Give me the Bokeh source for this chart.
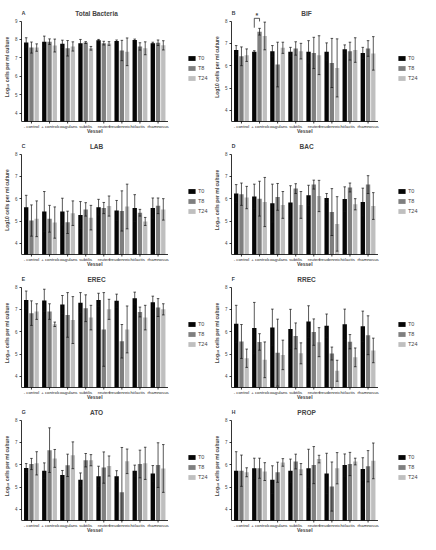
from bokeh.plotting import figure
from bokeh.layouts import gridplot
from bokeh.models import ColumnDataSource, Range1d, FixedTicker, Legend, LegendItem, Label
from bokeh.core.properties import value
from bokeh.transform import dodge
from bokeh.embed import file_html
from bokeh.resources import INLINE

vessels = ["- control", "+ control", "coagulans", "subtilis", "reuteri",
           "freudenreichii", "lactis", "rhamnosus"]
times = ["T0", "T8", "T24"]

# A - Total Bacteria
tb_t0 = [7.84, 7.88, 7.76, 7.8, 7.95, 7.92, 7.97, 7.8]
tb_t0_err = [0.25, 0.3, 0.2, 0.2, 0.05, 0.05, 0.05, 0.05]
tb_t8 = [7.56, 7.88, 7.52, 7.83, 7.8, 7.4, 7.62, 7.82]
tb_t8_err = [0.3, 0.15, 0.42, 0.05, 0.1, 0.55, 0.2, 0.15]
tb_t24 = [7.56, 7.67, 7.62, 7.52, 7.78, 7.33, 7.52, 7.68]
tb_t24_err = [0.2, 0.35, 0.25, 0.1, 0.1, 0.75, 0.35, 0.25]

# B - BIF
bif_t0 = [6.7, 6.62, 6.65, 6.62, 6.62, 6.62, 6.73, 6.57]
bif_t0_err = [0.2, 0.05, 0.25, 0.2, 0.5, 0.4, 0.2, 0.25]
bif_t8 = [6.42, 7.52, 6.05, 6.77, 6.57, 6.12, 6.65, 6.77]
bif_t8_err = [0.42, 0.15, 1.0, 0.3, 0.7, 1.1, 0.4, 0.35]
bif_t24 = [6.47, 7.33, 6.8, 6.65, 6.47, 5.9, 6.7, 6.55]
bif_t24_err = [0.28, 0.62, 0.25, 0.35, 0.87, 1.3, 0.55, 0.75]

# C - LAB
lab_t0 = [5.62, 5.42, 5.42, 5.27, 5.62, 5.47, 5.58, 5.58]
lab_t0_err = [0.53, 0.9, 0.6, 0.6, 0.35, 0.45, 0.6, 0.45]
lab_t8 = [5.02, 5.1, 4.94, 5.52, 5.58, 5.45, 5.37, 5.68]
lab_t8_err = [0.7, 0.6, 0.5, 0.3, 0.25, 0.9, 0.15, 0.35]
lab_t24 = [5.1, 4.93, 5.35, 5.15, 5.67, 5.65, 4.98, 5.52]
lab_t24_err = [0.8, 0.7, 0.55, 0.55, 0.45, 1.0, 0.18, 0.48]

# D - BAC
bac_t0 = [6.23, 6.1, 5.8, 5.83, 6.15, 6.03, 5.98, 5.85]
bac_t0_err = [0.4, 0.55, 0.85, 0.75, 0.45, 0.2, 0.55, 0.62]
bac_t8 = [6.2, 6.0, 6.08, 6.45, 6.63, 5.4, 6.5, 6.63]
bac_t8_err = [0.5, 0.78, 0.6, 0.22, 0.2, 1.05, 0.2, 0.4]
bac_t24 = [6.05, 5.85, 5.72, 5.72, 6.12, 4.87, 5.75, 5.67]
bac_t24_err = [0.5, 1.1, 0.6, 0.6, 0.7, 1.22, 0.25, 0.6]

# E - EREC
erec_t0 = [7.42, 7.4, 7.22, 7.3, 7.42, 7.38, 7.5, 7.32]
erec_t0_err = [0.4, 0.5, 0.4, 0.45, 0.3, 0.3, 0.27, 0.27]
erec_t8 = [6.83, 6.9, 6.75, 7.05, 6.1, 5.57, 6.88, 7.08]
erec_t8_err = [0.55, 0.35, 1.0, 0.6, 1.65, 0.75, 0.22, 0.4]
erec_t24 = [6.9, 6.33, 6.52, 6.63, 7.0, 6.1, 6.63, 7.0]
erec_t24_err = [0.35, 0.1, 1.05, 0.55, 0.45, 1.05, 0.55, 0.25]

# F - RREC
rrec_t0 = [6.35, 6.16, 6.19, 6.12, 6.45, 6.26, 6.33, 6.24]
rrec_t0_err = [0.83, 1.15, 0.82, 0.88, 0.71, 0.53, 0.68, 0.68]
rrec_t8 = [5.56, 5.54, 5.06, 5.81, 5.98, 5.02, 5.55, 5.84]
rrec_t8_err = [0.76, 0.37, 1.5, 0.58, 0.59, 0.29, 0.32, 0.87]
rrec_t24 = [4.81, 4.74, 4.96, 5.03, 5.53, 4.25, 4.85, 5.16]
rrec_t24_err = [0.41, 0.8, 0.66, 0.47, 0.65, 0.47, 0.42, 0.55]

# G - ATO
ato_t0 = [5.85, 5.73, 5.54, 5.33, 5.48, 5.48, 5.73, 5.61]
ato_t0_err = [0.2, 0.35, 0.2, 0.3, 0.45, 0.25, 0.25, 0.35]
ato_t8 = [6.03, 6.65, 5.97, 6.2, 5.87, 4.77, 6.03, 5.98]
ato_t8_err = [0.25, 1.0, 0.5, 0.3, 0.7, 2.0, 0.62, 1.0]
ato_t24 = [6.06, 6.28, 6.42, 6.2, 5.94, 6.15, 6.06, 5.83]
ato_t24_err = [0.52, 0.4, 0.6, 0.25, 0.45, 0.55, 0.72, 1.07]

# H - PROP
prop_t0 = [5.73, 5.84, 5.33, 5.73, 5.84, 5.61, 5.98, 5.81]
prop_t0_err = [0.85, 0.45, 0.62, 0.52, 0.85, 0.9, 0.5, 0.5]
prop_t8 = [5.73, 5.84, 5.66, 6.14, 5.98, 5.02, 6.03, 5.93]
prop_t8_err = [0.7, 0.45, 0.45, 0.33, 0.83, 1.1, 0.52, 0.7]
prop_t24 = [5.66, 5.69, 6.1, 5.8, 6.25, 5.84, 6.14, 6.17]
prop_t24_err = [0.2, 0.4, 0.17, 0.25, 0.17, 0.7, 0.15, 0.8]

colors = ["#050505", "#7f7f7f", "#bfbfbf"]
offsets = [-0.29, 0.0, 0.29]
FONT = "Liberation Sans"
xpos = [i + 0.5 for i in range(len(vessels))]


def make_panel(letter, title, ylabel, series, errors, ymin, ymax):
    u = (ymax - ymin) / 100.5  # data units per pixel
    p = figure(x_range=Range1d(-0.05, 10.4), y_range=Range1d(ymin - 12 * u, ymax + 20.5 * u),
               width=210, height=133, output_backend="svg", toolbar_location=None,
               x_axis_location=None,
               min_border_left=3, min_border_right=0, min_border_top=0, min_border_bottom=0)
    data = dict(vessel=vessels, x=xpos, base=[ymin] * len(vessels),
                tick=[ymin - 2 * u] * len(vessels), lab=[ymin - 4.8 * u] * len(vessels))
    for i in range(3):
        data["m%d" % i] = series[i]
        data["lo%d" % i] = [max(m - e, ymin) for m, e in zip(series[i], errors[i])]
        data["hi%d" % i] = [m + e for m, e in zip(series[i], errors[i])]
    src = ColumnDataSource(data)

    items = []
    for i in range(3):
        off = offsets[i]
        r = p.vbar(x=dodge("x", off), top="m%d" % i, bottom=ymin,
                   width=0.24, source=src, fill_color=colors[i], line_color=None)
        items.append(LegendItem(label=times[i], renderers=[r]))
        xc = dodge("x", off)
        p.segment(x0=xc, x1=xc, y0="lo%d" % i, y1="hi%d" % i, source=src,
                  line_color="#111111", line_width=0.7)
        for end in ("lo", "hi"):
            p.segment(x0=dodge("x", off - 0.07), x1=dodge("x", off + 0.07),
                      y0="%s%d" % (end, i), y1="%s%d" % (end, i), source=src,
                      line_color="#111111", line_width=0.7)

    # x axis drawn inside the frame
    p.segment(x0=-0.05, x1=8.05, y0=ymin, y1=ymin, line_color="black", line_width=0.8)
    p.segment(x0="x", x1="x", y0="base", y1="tick", source=src,
              line_color="black", line_width=0.8)
    p.text(x="x", y="lab", text="vessel", source=src, text_align="center",
           text_baseline="middle", text_font=value(FONT), text_font_size=value("4.3px"),
           text_color="#222222")
    p.add_layout(Label(x=4.0, y=ymin - 9.6 * u, text="Vessel", text_align="center",
                       text_baseline="middle", text_font=FONT, text_font_size="5px",
                       text_font_style="bold"))

    legend = Legend(items=items, location=(166, 52), border_line_color=None,
                    background_fill_alpha=0, label_text_font_size="5.5px",
                    label_text_font=FONT, glyph_width=9, glyph_height=6,
                    label_height=6, spacing=4, padding=0, margin=0,
                    label_standoff=2)
    p.add_layout(legend)

    p.add_layout(Label(x=4.1, y=ymax + 8 * u, text=title, text_align="center",
                       text_baseline="middle", text_font=FONT, text_font_size="6.5px",
                       text_font_style="bold"))
    p.add_layout(Label(x=-0.05, y=ymax + 8 * u, text=letter, text_align="left",
                       text_baseline="middle", text_font=FONT, text_font_size="5.5px",
                       text_font_style="bold"))

    p.xgrid.grid_line_color = None
    p.ygrid.grid_line_color = None
    p.outline_line_color = None

    ax = p.yaxis[0]
    ax.ticker = FixedTicker(ticks=list(range(4, int(ymax) + 1)))
    ax.bounds = (ymin, ymax)
    ax.axis_label = ylabel
    ax.minor_tick_line_color = None
    ax.major_label_text_font = FONT
    ax.major_label_text_font_size = "4.5px"
    ax.axis_label_text_font = FONT
    ax.axis_label_text_font_size = "5px"
    ax.axis_label_text_font_style = "bold"
    ax.axis_label_standoff = 2
    ax.major_label_standoff = 2
    ax.major_tick_out = 2
    ax.major_tick_in = 0
    ax.axis_line_width = 0.8
    ax.major_tick_line_width = 0.8
    return p


pa = make_panel("A", "Total Bacteria", "Log\u2081\u2080 cells per ml culture",
                [tb_t0, tb_t8, tb_t24], [tb_t0_err, tb_t8_err, tb_t24_err], 3.55, 9)
pb = make_panel("B", "BIF", "Log10 cells per ml culture",
                [bif_t0, bif_t8, bif_t24], [bif_t0_err, bif_t8_err, bif_t24_err], 3.5, 8)
pc = make_panel("C", "LAB", "Log10 cells per ml culture",
                [lab_t0, lab_t8, lab_t24], [lab_t0_err, lab_t8_err, lab_t24_err], 3.5, 8)
pd = make_panel("D", "BAC", "Log\u2081\u2080 cells per ml culture",
                [bac_t0, bac_t8, bac_t24], [bac_t0_err, bac_t8_err, bac_t24_err], 3.5, 8)
pe = make_panel("E", "EREC", "Log\u2081\u2080 cells per ml culture",
                [erec_t0, erec_t8, erec_t24], [erec_t0_err, erec_t8_err, erec_t24_err], 3.5, 8)
pf = make_panel("F", "RREC", "Log\u2081\u2080 cells per ml culture",
                [rrec_t0, rrec_t8, rrec_t24], [rrec_t0_err, rrec_t8_err, rrec_t24_err], 3.5, 8)
pg = make_panel("G", "ATO", "Log\u2081\u2080 cells per ml culture",
                [ato_t0, ato_t8, ato_t24], [ato_t0_err, ato_t8_err, ato_t24_err], 3.5, 8)
ph = make_panel("H", "PROP", "Log\u2081\u2080 cells per ml culture",
                [prop_t0, prop_t8, prop_t24], [prop_t0_err, prop_t8_err, prop_t24_err], 3.5, 8)

# significance bracket in BIF, + control: T0 vs T8
sig = ColumnDataSource(dict(x=[xpos[1]]))
left = dodge("x", offsets[0])
right = dodge("x", offsets[1])
pb.segment(x0=left, x1=left, y0=7.7, y1=8.12, source=sig, line_color="#111111", line_width=0.7)
pb.segment(x0=right, x1=right, y0=7.98, y1=8.12, source=sig, line_color="#111111", line_width=0.7)
pb.segment(x0=left, x1=right, y0=8.12, y1=8.12, source=sig, line_color="#111111", line_width=0.7)
pb.add_layout(Label(x=xpos[1] + (offsets[0] + offsets[1]) / 2, y=8.1, text="*",
                    text_align="center", text_font=FONT, text_font_size="7px",
                    text_font_style="bold"))

p = gridplot([[pa, pb], [pc, pd], [pe, pf], [pg, ph]], toolbar_location=None)

open("out.html", "w").write(file_html(p, INLINE))
